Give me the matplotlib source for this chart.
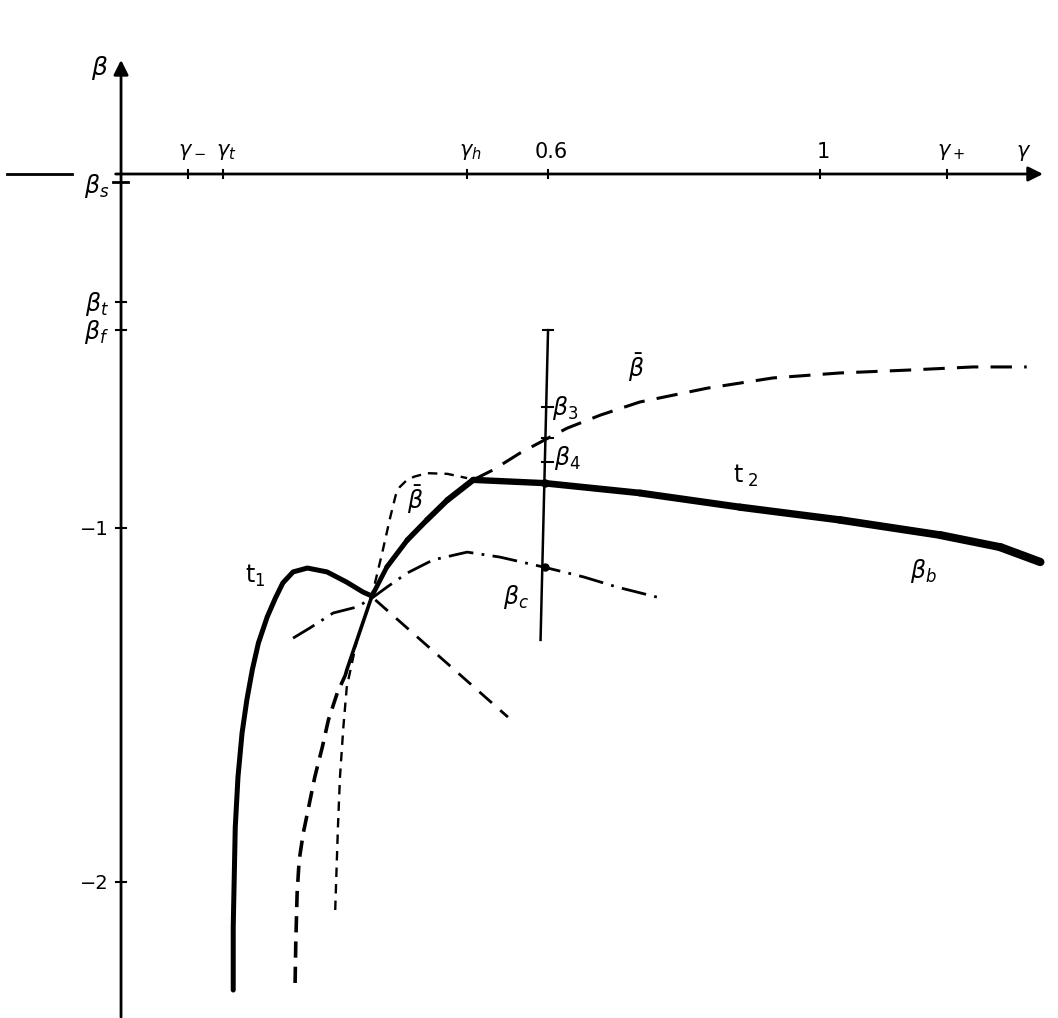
import matplotlib
matplotlib.use("Agg")
import matplotlib.pyplot as plt
import numpy as np
from matplotlib.collections import LineCollection

plt.rcParams['mathtext.fontset'] = 'dejavusans'
plt.rcParams['font.family'] = ['DejaVu Sans']

# ---- data (gamma, beta) ----
# t1 branch of the stability boundary (thick solid)
t1_g = [0.137, 0.137, 0.140, 0.144, 0.150, 0.157, 0.165, 0.174, 0.187, 0.199, 0.210,
        0.225, 0.246, 0.275, 0.304, 0.328, 0.341]
t1_b = [-2.305, -2.127, -1.845, -1.703, -1.579, -1.486, -1.401, -1.325, -1.251, -1.198, -1.155,
        -1.124, -1.113, -1.124, -1.153, -1.181, -1.192]

# upper boundary: rises from the crossing, then t2 branch (thick solid)
t2_g = [0.304, 0.341, 0.363, 0.393, 0.422, 0.452, 0.490, 0.593, 0.735, 0.882, 1.029, 1.177, 1.265, 1.324]
t2_b = [-1.401, -1.192, -1.110, -1.034, -0.977, -0.921, -0.864, -0.873, -0.901, -0.941, -0.977, -1.020, -1.054, -1.096]

# lower part of beta-bar (thick long dashes)
bbar_low_g = [0.228, 0.229, 0.231, 0.234, 0.240, 0.247, 0.257, 0.268, 0.277, 0.290, 0.302, 0.304]
bbar_low_b = [-2.285, -2.172, -2.031, -1.938, -1.862, -1.797, -1.703, -1.619, -1.542, -1.466, -1.415, -1.401]

# thin short-dashed curve with the hook at the top
hook_g = [0.287, 0.291, 0.294, 0.299, 0.304, 0.319, 0.334, 0.343, 0.356, 0.368, 0.376,
          0.382, 0.391, 0.403, 0.422, 0.452, 0.481]
hook_b = [-2.079, -1.845, -1.703, -1.562, -1.449, -1.316, -1.232, -1.175, -1.071, -0.969, -0.907,
          -0.884, -0.867, -0.855, -0.845, -0.847, -0.859]

# upper beta-bar (dashed)
bbar_up_g = [0.490, 0.519, 0.559, 0.600, 0.628, 0.677, 0.735, 0.834, 0.931, 1.029, 1.128, 1.225, 1.304]
bbar_up_b = [-0.864, -0.836, -0.788, -0.746, -0.718, -0.681, -0.644, -0.605, -0.576, -0.562, -0.554, -0.545, -0.545]

# beta_c (dash-dot)
bc_g = [0.225, 0.250, 0.284, 0.319, 0.341, 0.363, 0.393, 0.431, 0.481, 0.529, 0.593, 0.652, 0.702, 0.760]
bc_b = [-1.311, -1.282, -1.240, -1.223, -1.198, -1.167, -1.127, -1.090, -1.068, -1.082, -1.110, -1.138, -1.167, -1.195]

# straight dashed line leaving the crossing
cross_g = [0.346, 0.541]
cross_b = [-1.203, -1.534]

# axis ticks
x_ticks = [0.071, 0.122, 0.481, 0.600, 1.000, 1.187]
x_labels = [r'$\gamma_-$', r'$\gamma_t$', r'$\gamma_h$', '0.6', '1', r'$\gamma_+$']
y_ticks = [-0.362, -0.441, -1.0, -2.0]
y_labels = [r'$\beta_t$', r'$\beta_f$', '\u22121', '\u22122']

# section at gamma = 0.6
sec_g = 0.600
sec_top, sec_bot = -0.441, -1.316
sec_ticks = [-0.658, -0.746, -0.814]
sec_dots = [-0.873, -1.110]

fig = plt.figure(figsize=(10.58, 10.18), dpi=100)
ax = fig.add_axes([0, 0, 1, 1])
ax.set_xlim(-0.206, 1.35)
ax.set_ylim(-2.384, 0.4915)
ax.axis('off')

k = 'black'
yax = -0.028   # hand-drawn vertical axis sits a bit left of gamma = 0

# axes with arrows
ax.annotate('', xy=(yax, 0.33), xytext=(yax, -2.39),
            arrowprops=dict(arrowstyle='-|>', color=k, lw=2, mutation_scale=22))
ax.annotate('', xy=(1.332, 0.0), xytext=(-0.040, 0.0),
            arrowprops=dict(arrowstyle='-|>', color=k, lw=2, mutation_scale=22))
ax.plot([-0.196, -0.100], [0, 0], color=k, lw=2)
ax.plot([-0.040, -0.018], [-0.023, -0.023], color=k, lw=2)

for g, lab in zip(x_ticks, x_labels):
    ax.plot([g, g], [-0.012, 0.012], color=k, lw=1.5)
    fs = 15 if lab[0] != '$' else 15
    ax.text(g + 0.005, 0.035, lab, ha='center', va='bottom', fontsize=fs)
ax.text(1.300, 0.030, r'$\gamma$', ha='center', va='bottom', fontsize=15)
ax.text(-0.059, 0.30, r'$\beta$', ha='center', va='center', fontsize=18)
ax.text(-0.045, -0.034, r'$\beta_s$', ha='right', va='center', fontsize=17)

for b, lab in zip(y_ticks, y_labels):
    ax.plot([yax - 0.008, yax + 0.008], [b, b], color=k, lw=1.5)
    fs = 14 if lab[0] != '$' else 17
    ax.text(yax - 0.018, b - 0.005, lab, ha='right', va='center', fontsize=fs)

# curves
ax.plot(t1_g, t1_b, color=k, lw=3.6, solid_capstyle='round', solid_joinstyle='round')

pts = np.column_stack([t2_g, t2_b])
segs = np.stack([pts[:-1], pts[1:]], axis=1)
widths = np.concatenate([[2.6], np.linspace(3.4, 6.0, len(segs) - 1)])
ax.add_collection(LineCollection(segs, colors=k, linewidths=widths, capstyle='round'))

ax.plot(bbar_low_g, bbar_low_b, color=k, lw=2.6, linestyle=(0, (4.5, 2.5)))
ax.plot(hook_g, hook_b, color=k, lw=1.7, linestyle=(0, (4, 3)))
ax.plot(bbar_up_g, bbar_up_b, color=k, lw=2.2, linestyle=(0, (7, 4)))
ax.plot(bc_g, bc_b, color=k, lw=2.0, linestyle=(0, (9, 3, 1, 3)))
ax.plot(cross_g, cross_b, color=k, lw=2.0, linestyle=(0, (6, 4)))

# section at gamma = 0.6
ax.plot([sec_g, sec_g - 0.011], [sec_top, sec_bot], color=k, lw=1.8)
ax.plot([sec_g - 0.008, sec_g + 0.008], [sec_top, sec_top], color=k, lw=1.5)
for b in sec_ticks:
    ax.plot([sec_g - 0.009, sec_g + 0.007], [b, b], color=k, lw=1.5)
ax.plot([sec_g - 0.004] * 2, sec_dots, 'o', color=k, ms=5)

# curve labels
ax.text(0.169, -1.136, r'$\mathregular{t}_1$', ha='center', va='center', fontsize=17)
ax.text(0.404, -0.921, r'$\bar{\beta}$', ha='center', va='center', fontsize=17)
ax.text(0.729, -0.548, r'$\bar{\beta}$', ha='center', va='center', fontsize=17)
ax.text(0.606, -0.661, r'$\beta_3$', ha='left', va='center', fontsize=17)
ax.text(0.609, -0.802, r'$\beta_4$', ha='left', va='center', fontsize=17)
ax.text(0.872, -0.853, r'$\mathregular{t}_{\ 2}$', ha='left', va='center', fontsize=17)
ax.text(0.534, -1.195, r'$\beta_c$', ha='left', va='center', fontsize=17)
ax.text(1.132, -1.121, r'$\beta_b$', ha='left', va='center', fontsize=17)

fig.savefig('out.png', dpi=100)
